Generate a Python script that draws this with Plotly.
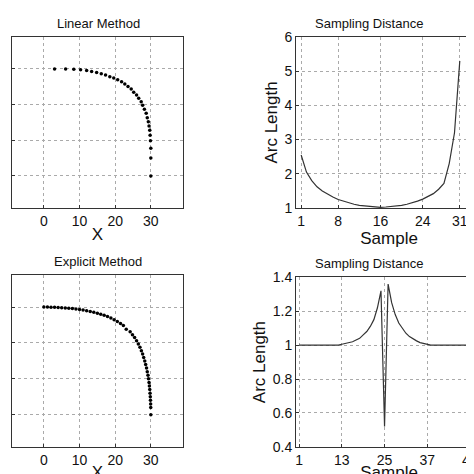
import plotly.graph_objects as go
from plotly.subplots import make_subplots

lin_x = [3.0,6.1,8.4,10.3,12.0,13.4,14.8,16.1,17.3,18.5,19.6,20.7,21.8,22.7,23.6,24.5,25.2,26.0,26.6,27.3,27.7,28.2,28.7,29.0,29.3,29.5,29.7,29.8,29.9,30.0,30.0,30.0]
lin_y = [30.0,30.0,29.9,29.8,29.6,29.3,29.0,28.7,28.3,27.8,27.5,27.0,26.4,25.8,25.1,24.4,23.5,22.7,21.8,20.8,19.8,18.7,17.6,16.3,15.2,14.0,12.8,11.4,9.9,7.8,5.0,0.0]

exp_x = [0,1,2,3,4,5,6,7,8,9,10,11,12,13,14,15,15.95,16.9,17.85,18.8,19.7,20.6,21.5,22.3,23.1,
         24.2,24.85,25.45,26.0,26.5,26.95,27.35,27.7,28.0,28.3,28.55,28.8,29.0,29.2,29.35,29.5,29.6,29.7,29.78,29.85,29.9,29.95,29.98,30]
exp_y = [30,30,29.98,29.95,29.9,29.85,29.78,29.7,29.6,29.5,29.35,29.2,29.0,28.8,28.55,28.3,28.0,27.7,27.35,26.95,26.5,26.0,25.45,24.85,23.8,
         23.1,22.3,21.5,20.6,19.7,18.8,17.85,16.9,15.95,15,14,13,12,11,10,9,8,7,6,5,4,3,2,0]

lin_arc = [2.55,2.05,1.8,1.62,1.5,1.4,1.32,1.25,1.2,1.15,1.11,1.08,1.06,1.04,1.03,1.02,1.03,1.04,1.06,1.08,1.11,1.15,1.2,1.26,1.33,1.42,1.55,1.72,2.3,3.2,5.3]
exp_arc = [1.0]*12 + [1.005,1.01,1.015,1.02,1.03,1.04,1.06,1.08,1.11,1.15,1.22,1.32,0.52,1.36,1.25,1.18,1.13,1.1,1.07,1.05,1.035,1.025,1.015,1.01,1.005] + [1.0]*12

titles = ["Linear Method", "Sampling Distance", "Explicit Method", "Sampling Distance"]

fig = make_subplots(rows=2, cols=2)
fig.add_trace(go.Scatter(x=lin_x, y=lin_y, mode="markers", marker=dict(color="black", size=3.5)), 1, 1)
fig.add_trace(go.Scatter(x=list(range(1, len(lin_arc)+1)), y=lin_arc, mode="lines", line=dict(color="#333", width=1.2)), 1, 2)
fig.add_trace(go.Scatter(x=exp_x, y=exp_y, mode="markers", marker=dict(color="black", size=3.5)), 2, 1)
fig.add_trace(go.Scatter(x=list(range(1, len(exp_arc)+1)), y=exp_arc, mode="lines", line=dict(color="#333", width=1.2)), 2, 2)

ax = dict(showline=True, mirror=True, linecolor="#333", linewidth=1.2, showgrid=True, gridcolor="#aaa", griddash="dot", gridwidth=1,
          zeroline=False, ticks="inside", ticklen=3, tickcolor="#333", tickfont=dict(size=14, color="#111"), automargin=False)
fig.update_layout(
    xaxis=dict(ax, domain=[0.008, 0.369], range=[-9, 39], tickvals=[0,10,20,30], title=dict(text="X", standoff=0)),
    yaxis=dict(ax, domain=[0.578, 0.939], range=[-9, 39], tickvals=[0,10,20,30], showticklabels=False),
    xaxis2=dict(ax, domain=[0.608, 1.0], range=[0.06, 35.2], tickvals=[1,8,16,24,31], title=dict(text="Sample", standoff=0)),
    yaxis2=dict(ax, domain=[0.578, 0.939], range=[1, 6], tickvals=[1,2,3,4,5,6], title=dict(text="Arc Length", standoff=2)),
    xaxis3=dict(ax, domain=[0.008, 0.369], range=[-9, 39], tickvals=[0,10,20,30], title=dict(text="X", standoff=0)),
    yaxis3=dict(ax, domain=[0.074, 0.437], range=[-9, 39], tickvals=[0,10,20,30], showticklabels=False),
    xaxis4=dict(ax, domain=[0.608, 1.0], range=[0.16, 52.4], tickvals=[1,13,25,37,49], title=dict(text="Sample", standoff=0)),
    yaxis4=dict(ax, domain=[0.074, 0.432], range=[0.4, 1.4], tickvals=[0.4,0.6,0.8,1,1.2,1.4], ticktext=["0.4","0.6","0.8","1","1.2","1.4"], title=dict(text="Arc Length", standoff=2)),
    width=474, height=474, margin=dict(l=0, r=0, t=0, b=0),
    paper_bgcolor="white", plot_bgcolor="white", showlegend=False,
    font=dict(family="Liberation Sans, Arial, sans-serif", size=14, color="#111"),
)
pos = [(0.19, 0.939), (0.762, 0.939), (0.19, 0.437), (0.762, 0.432)]
for t, (x, y) in zip(titles, pos):
    fig.add_annotation(text=t, x=x, y=y, xref="paper", yref="paper", xanchor="center", yanchor="bottom",
                       yshift=4, showarrow=False, font=dict(size=13, color="#111"))
fig.write_html("out.html")
